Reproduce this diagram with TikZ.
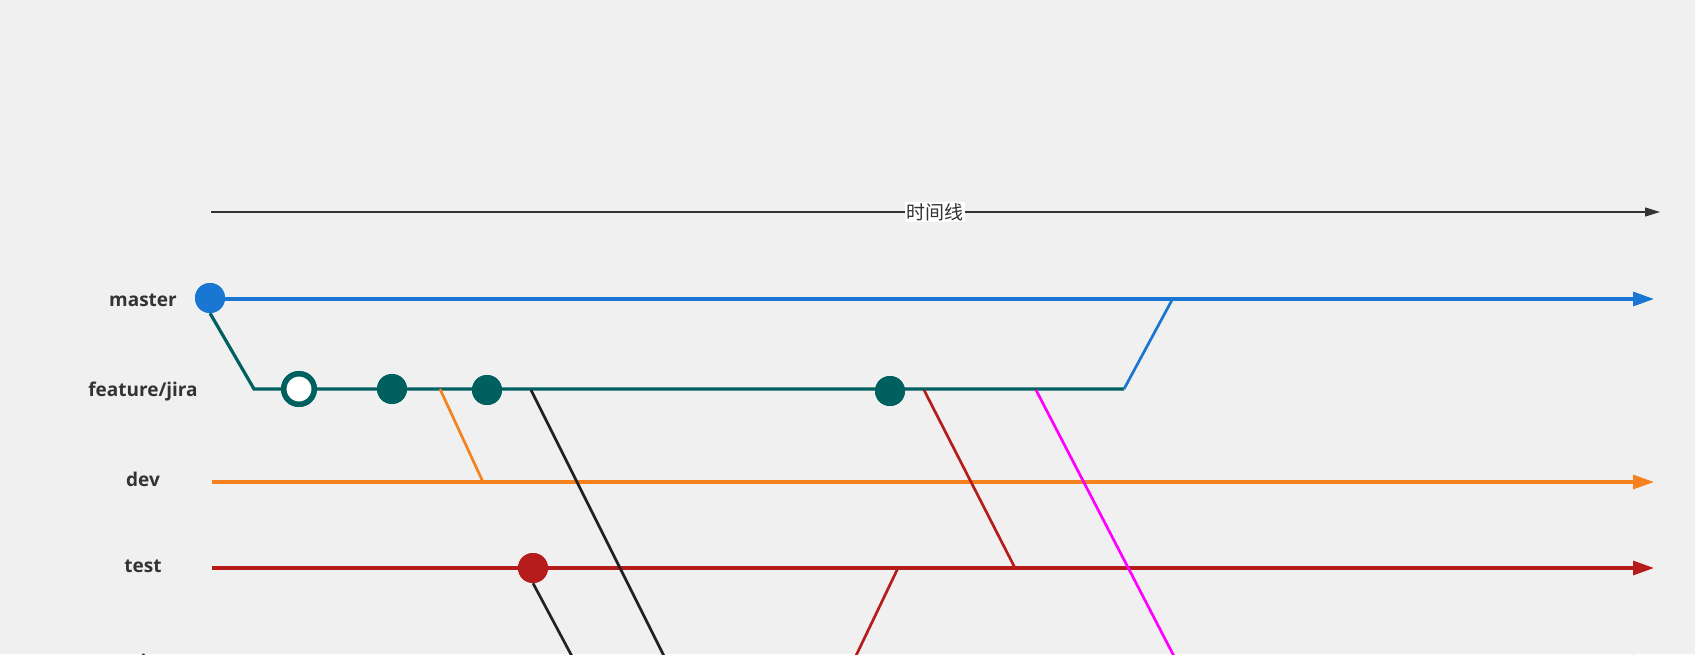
\documentclass[tikz,border=0pt]{standalone}
\usepackage{fontspec}
\setmainfont{Open Sans}
\newfontfamily\cjk{Noto Sans CJK SC}
\usetikzlibrary{arrows.meta}
\definecolor{bgc}{HTML}{F0F0F0}
\definecolor{cblue}{HTML}{1976D2}
\definecolor{cteal}{HTML}{006060}
\definecolor{corange}{HTML}{F5821F}
\definecolor{cred}{HTML}{B71C1C}
\definecolor{cmag}{HTML}{FF00FF}
\definecolor{cblack}{HTML}{222222}
\definecolor{ctext}{HTML}{333333}
\tikzset{
  branchlabel/.style={font=\fontsize{19}{22}\selectfont\bfseries, text=ctext, inner sep=0pt},
  mainline/.style={line width=3.2pt},
  linkline/.style={line width=2.7pt},
  endtip/.style={-{Triangle[length=21pt,width=14pt]}},
  dotnode/.style={circle, minimum size=30pt, inner sep=0pt, fill=#1, draw=none},
  opendot/.style={circle, minimum size=30.5pt, inner sep=0pt, fill=white, draw=cteal, line width=5.5pt},
}
\begin{document}
\begin{tikzpicture}[x=1pt,y=-1pt]
\useasboundingbox (0,0) rectangle (1695,654);
\clip (0,0) rectangle (1695,654);
\fill[bgc] (0,0) rectangle (1695,654);

% coordinates
\coordinate (tl0) at (211,212);
\coordinate (tl1) at (1660,212);
\coordinate (mStart) at (210,299);
\coordinate (mEnd) at (1654,299);
\coordinate (mJoin) at (1172,300);
\coordinate (fA) at (254,389);
\coordinate (fEnd) at (1124,389);
\coordinate (d0) at (212,482);
\coordinate (dEnd) at (1654,482);
\coordinate (t0) at (212,568);
\coordinate (tEnd) at (1654,568);
\coordinate (s0) at (212,662);
\coordinate (sEnd) at (1654,662);
\coordinate (oS) at (440,389);
\coordinate (oE) at (483,482);
\coordinate (k1S) at (531,390);
\coordinate (k1E) at (667,662);
\coordinate (k2E) at (575,662);
\coordinate (r1S) at (924,390);
\coordinate (r1E) at (1015,568);
\coordinate (r2S) at (898,568);
\coordinate (r2E) at (853,662);
\coordinate (pS) at (1036,390);
\coordinate (pE) at (1177,662);

% labels
\node[branchlabel] (lm) at (143,300) {master};
\node[branchlabel] (lf) at (143,392) {feature/jira};
\node[branchlabel] (ld) at (143,479) {dev};
\node[branchlabel] (lt) at (143,566) {test};
\node[branchlabel] (ls) at (143,661) {sit};

% commits (placed first so connectors can use their anchors)
\node[dotnode=cblue] (M) at (210,298) {};
\node[opendot] (O) at (299,389) {};
\node[dotnode=cteal] (F1) at (392,389) {};
\node[dotnode=cteal] (F2) at (487,390) {};
\node[dotnode=cteal] (F3) at (890,391) {};
\node[dotnode=cred] (T) at (533,568) {};

% timeline
\draw[line width=1.3pt, draw=ctext, -{Triangle[length=15pt,width=9pt]}] (tl0) -- (tl1);
\node[fill=white, text=ctext, inner sep=1.5pt, font=\cjk\fontsize{19}{21}\selectfont] (tlab) at (935,212) {时间线};

% branch lines
\draw[mainline, cblue, endtip] (mStart) -- (mEnd);
\draw[mainline, cteal] (M.south) -- (fA) -- (fEnd);
\draw[linkline, cblue] (fEnd) -- (mJoin);
\draw[mainline, corange, endtip] (d0) -- (dEnd);
\draw[mainline, cred, endtip] (t0) -- (tEnd);
\draw[mainline, cmag, endtip] (s0) -- (sEnd);

% links
\draw[linkline, corange] (oS) -- (oE);
\draw[linkline, cblack] (k1S) -- (k1E);
\draw[linkline, cblack] (T.south) -- (k2E);
\draw[linkline, cred] (r1S) -- (r1E);
\draw[linkline, cred] (r2S) -- (r2E);
\draw[linkline, cmag] (pS) -- (pE);

% redraw commits on top of lines
\node[dotnode=cblue] at (M) {};
\node[opendot] at (O) {};
\node[dotnode=cteal] at (F1) {};
\node[dotnode=cteal] at (F2) {};
\node[dotnode=cteal] at (F3) {};
\node[dotnode=cred] at (T) {};
\end{tikzpicture}
\end{document}
